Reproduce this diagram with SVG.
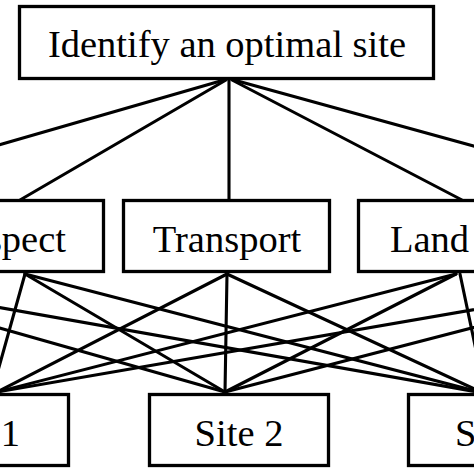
<svg xmlns="http://www.w3.org/2000/svg" width="474" height="474" viewBox="0 0 474 474">
<style>
.box{fill:#fff;stroke:#000;stroke-width:3.3}
.lbl{font-family:"Liberation Serif","Times New Roman",serif;font-size:38.5px;fill:#000}
.c{stroke:#000;stroke-width:3.1;fill:none;stroke-linecap:round}
</style>
<rect width="474" height="474" fill="#fff"/>
<g id="connectors">
<line class="c" x1="224" y1="80" x2="-192" y2="200"/>
<line class="c" x1="226" y1="80" x2="20" y2="200"/>
<line class="c" x1="229" y1="80" x2="229" y2="200"/>
<line class="c" x1="232" y1="80" x2="462" y2="200"/>
<line class="c" x1="234" y1="80" x2="670" y2="200"/>
<line class="c" x1="-190" y1="274" x2="225" y2="392"/>
<line class="c" x1="-190" y1="274" x2="483" y2="393"/>
<line class="c" x1="25" y1="274" x2="-8" y2="392"/>
<line class="c" x1="25" y1="274" x2="225" y2="392"/>
<line class="c" x1="25" y1="274" x2="483" y2="393"/>
<line class="c" x1="227" y1="274" x2="-3" y2="392"/>
<line class="c" x1="227" y1="274" x2="225" y2="392"/>
<line class="c" x1="227" y1="274" x2="483" y2="393"/>
<line class="c" x1="456" y1="274" x2="-3" y2="392"/>
<line class="c" x1="456" y1="274" x2="225" y2="392"/>
<line class="c" x1="460" y1="274" x2="485" y2="393"/>
<line class="c" x1="680" y1="274" x2="-3" y2="392"/>
<line class="c" x1="680" y1="274" x2="225" y2="392"/>
</g>
<g id="goal">
<rect class="box" x="19.5" y="6.5" width="414" height="72"/>
<text class="lbl" x="227" y="57" text-anchor="middle">Identify an optimal site</text>
</g>
<g id="aspect">
<rect class="box" x="-110" y="200.5" width="213.5" height="71"/>
<text class="lbl" x="66" y="252" text-anchor="end">Aspect</text>
</g>
<g id="transport">
<rect class="box" x="123.5" y="200.5" width="206" height="71"/>
<text class="lbl" x="227" y="252" text-anchor="middle">Transport</text>
</g>
<g id="land">
<rect class="box" x="358.5" y="200.5" width="213" height="71"/>
<text class="lbl" x="390" y="252">Land</text>
</g>
<g id="site1">
<rect class="box" x="-115" y="394.5" width="183.5" height="71"/>
<text class="lbl" x="20" y="446" text-anchor="end">Site 1</text>
</g>
<g id="site2">
<rect class="box" x="149.5" y="394.5" width="179" height="71"/>
<text class="lbl" x="239" y="446" text-anchor="middle">Site 2</text>
</g>
<g id="site3">
<rect class="box" x="408.5" y="394.5" width="185" height="71"/>
<text class="lbl" x="455" y="446">Site 3</text>
</g>
</svg>
